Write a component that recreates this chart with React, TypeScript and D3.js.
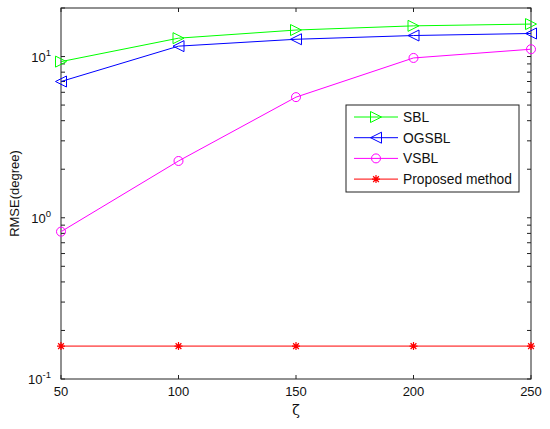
import * as d3 from "d3";
import { useEffect, useRef } from "react";

const zetaValues = [50, 100, 150, 200, 250];
const sblValues = [9.3, 13.0, 14.6, 15.5, 15.9];
const ogsblValues = [7.0, 11.6, 12.8, 13.5, 13.9];
const vsblValues = [0.82, 2.25, 5.6, 9.8, 11.1];
const proposedValues = [0.16, 0.16, 0.16, 0.16, 0.16];
const seriesNames = ["SBL", "OGSBL", "VSBL", "Proposed method"];
const seriesColors = ["#00ff00", "#0000ff", "#ff00ff", "#ff0000"];
const seriesMarkers = ["triRight", "triLeft", "circle", "star"];
const yMajorTicks = [0.1, 1, 10];
const yExponents = ["-1", "0", "1"];

type Marker = string;

function drawMarker(
  g: d3.Selection<SVGGElement, unknown, null, undefined>,
  kind: Marker,
  cx: number,
  cy: number,
  color: string,
) {
  const s = 5.5;
  if (kind === "triRight") {
    g.append("path")
      .attr("d", `M${cx - s},${cy - s}L${cx + s},${cy}L${cx - s},${cy + s}Z`)
      .attr("fill", "none")
      .attr("stroke", color);
  } else if (kind === "triLeft") {
    g.append("path")
      .attr("d", `M${cx + s},${cy - s}L${cx - s},${cy}L${cx + s},${cy + s}Z`)
      .attr("fill", "none")
      .attr("stroke", color);
  } else if (kind === "circle") {
    g.append("circle")
      .attr("cx", cx)
      .attr("cy", cy)
      .attr("r", 4.5)
      .attr("fill", "none")
      .attr("stroke", color);
  } else {
    const r = 4;
    const d = r * 0.72;
    g.append("path")
      .attr(
        "d",
        `M${cx},${cy - r}L${cx},${cy + r}M${cx - d},${cy - d}L${cx + d},${cy + d}M${cx - d},${cy + d}L${cx + d},${cy - d}M${cx - r},${cy}L${cx + r},${cy}`,
      )
      .attr("stroke", color)
      .attr("stroke-width", 1.2);
  }
}

export default function App() {
  const svgRef = useRef<SVGSVGElement>(null);

  useEffect(() => {
    if (!svgRef.current) return;
    const root = d3.select(svgRef.current);
    root.selectAll("*").remove();

    const left = 61;
    const right = 531;
    const top = 8;
    const bottom = 379;
    const font = "Arial, 'Liberation Sans', sans-serif";

    root.append("rect").attr("width", 550).attr("height", 429).attr("fill", "#fff");

    const x = d3.scaleLinear().domain([50, 250]).range([left, right]);
    const y = d3.scaleLog().domain([0.1, 20]).range([bottom, top]);

    const g = root.append("g");

    // Box
    g.append("rect")
      .attr("x", left)
      .attr("y", top)
      .attr("width", right - left)
      .attr("height", bottom - top)
      .attr("fill", "#fff")
      .attr("stroke", "#222")
      .attr("stroke-width", 1);

    const tickLen = 4;

    // X ticks
    zetaValues.forEach((v) => {
      const px = x(v);
      g.append("line")
        .attr("x1", px).attr("x2", px)
        .attr("y1", bottom).attr("y2", bottom - tickLen)
        .attr("stroke", "#222");
      g.append("line")
        .attr("x1", px).attr("x2", px)
        .attr("y1", top).attr("y2", top + tickLen)
        .attr("stroke", "#222");
      g.append("text")
        .attr("x", px)
        .attr("y", 396)
        .attr("text-anchor", "middle")
        .style("font-family", font)
        .style("font-size", "13px")
        .attr("fill", "#111")
        .text(String(v));
    });

    // Y ticks (major + minor)
    const allTicks = y.ticks().filter((t) => t >= 0.1 && t <= 20);
    allTicks.forEach((t) => {
      const py = y(t);
      g.append("line")
        .attr("x1", left).attr("x2", left + tickLen)
        .attr("y1", py).attr("y2", py)
        .attr("stroke", "#222");
      g.append("line")
        .attr("x1", right).attr("x2", right - tickLen)
        .attr("y1", py).attr("y2", py)
        .attr("stroke", "#222");
    });

    yMajorTicks.forEach((t, i) => {
      const py = y(t);
      const label = g
        .append("text")
        .attr("x", 51)
        .attr("y", py + 5)
        .attr("text-anchor", "end")
        .style("font-family", font)
        .style("font-size", "13px")
        .attr("fill", "#111");
      label.append("tspan").text("10");
      label
        .append("tspan")
        .attr("dy", -6)
        .style("font-size", "9.5px")
        .text(yExponents[i]);
    });

    // Axis titles
    g.append("text")
      .attr("transform", `translate(19,${(top + bottom) / 2}) rotate(-90)`)
      .attr("text-anchor", "middle")
      .style("font-family", font)
      .style("font-size", "13px")
      .attr("fill", "#111")
      .text("RMSE(degree)");

    g.append("text")
      .attr("x", (left + right) / 2)
      .attr("y", 415)
      .attr("text-anchor", "middle")
      .style("font-family", "'DejaVu Serif', serif")
      .style("font-size", "14px")
      .attr("fill", "#111")
      .text("ζ");

    // Series
    const allSeries = [sblValues, ogsblValues, vsblValues, proposedValues];
    const line = d3
      .line<number>()
      .x((_, i) => x(zetaValues[i]))
      .y((d) => y(d));

    allSeries.forEach((vals, si) => {
      g.append("path")
        .attr("d", line(vals))
        .attr("fill", "none")
        .attr("stroke", seriesColors[si])
        .attr("stroke-width", 1);
      vals.forEach((v, i) => {
        drawMarker(g, seriesMarkers[si], x(zetaValues[i]), y(v), seriesColors[si]);
      });
    });

    // Legend
    const lg = g.append("g");
    lg.append("rect")
      .attr("x", 346)
      .attr("y", 105)
      .attr("width", 173)
      .attr("height", 87)
      .attr("fill", "#fff")
      .attr("stroke", "#222");
    seriesNames.forEach((name, i) => {
      const ly = 117 + i * 20.7;
      lg.append("line")
        .attr("x1", 354).attr("x2", 398)
        .attr("y1", ly).attr("y2", ly)
        .attr("stroke", seriesColors[i]);
      drawMarker(lg, seriesMarkers[i], 376, ly, seriesColors[i]);
      lg.append("text")
        .attr("x", 403)
        .attr("y", ly + 5)
        .style("font-family", font)
        .style("font-size", "13.8px")
        .attr("fill", "#111")
        .text(name);
    });
  }, []);

  return (
    <svg
      ref={svgRef}
      width={550}
      height={429}
      style={{ position: "absolute", left: 0, top: 0 }}
    />
  );
}
